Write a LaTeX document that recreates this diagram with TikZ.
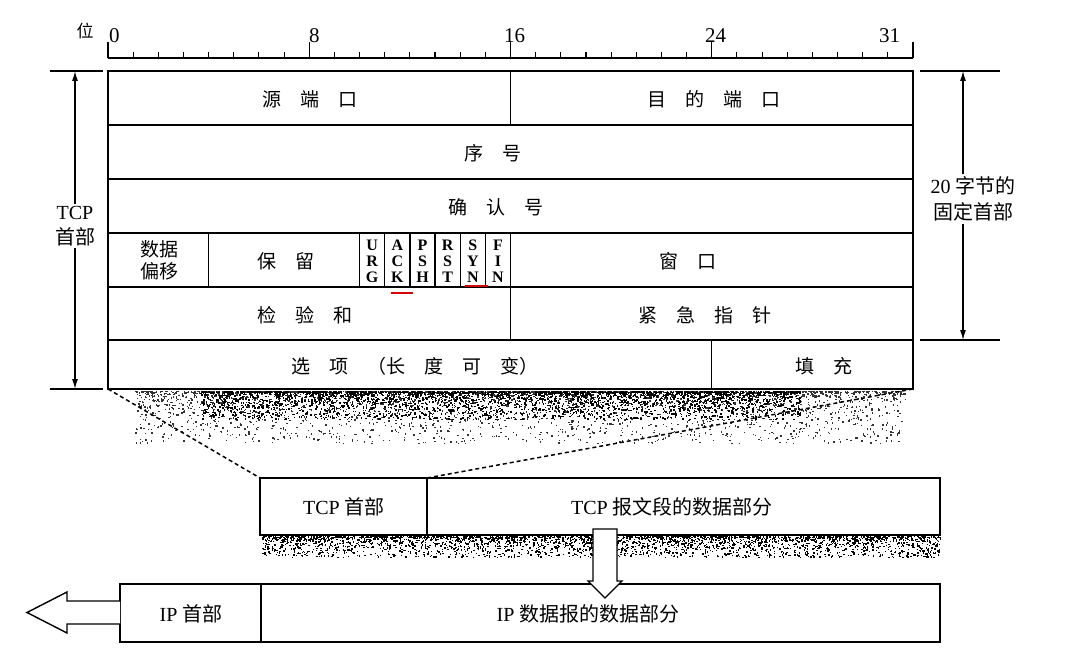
\documentclass[tikz,border=0pt]{standalone}
\usepackage{fontspec}
\setmainfont{Liberation Serif}
\newfontfamily\cjk{Noto Sans CJK SC}
\usetikzlibrary{arrows.meta}
\newcommand\gp{\hspace{1.0em}}
\begin{document}
\begin{tikzpicture}[x=1pt,y=-1pt,
  zh/.style={font=\cjk\fontsize{19}{22}\selectfont, inner sep=1pt},
  zhb/.style={font=\fontsize{20}{24}\selectfont, inner sep=1pt},
  flagtxt/.style={font=\bfseries\fontsize{16}{16}\selectfont, align=center, inner sep=0pt},
  num/.style={font=\fontsize{21}{24}\selectfont, inner sep=0pt, anchor=base west},
  outerline/.style={line width=2.3pt},
  innerline/.style={line width=1.2pt},
  dimarrow/.style={line width=1.1pt, -{Latex[length=10pt,width=6pt]}},
  dimline/.style={line width=1.1pt},
  dashedlink/.style={line width=1.5pt, dash pattern=on 4pt off 3pt},
  hollow/.style={line width=1.4pt, fill=white, line join=miter},
  redmark/.style={draw=red!85!black, line width=2.6pt}
]
\useasboundingbox (0,0) rectangle (1069,666);

% ---------- speckle textures ----------
\pgfmathsetseed{11}
\foreach \i in {1,...,3000}{
  \pgfmathsetmacro\rx{135+770*rnd}
  \pgfmathsetmacro\ry{391+52*rnd^2.5}
  \fill[black!80] (\rx,\ry) rectangle ++(1.4,1.4);
}
\foreach \i in {1,...,3000}{
  \pgfmathsetmacro\rx{200+600*rnd}
  \pgfmathsetmacro\ry{391+28*rnd^2}
  \fill[black] (\rx,\ry) rectangle ++(1.5,1.5);
}
\foreach \i in {1,...,2800}{
  \pgfmathsetmacro\rx{262+678*rnd}
  \pgfmathsetmacro\ry{536+21*rnd^2}
  \fill[black] (\rx,\ry) rectangle ++(1.4,1.4);
}

% ---------- bit ruler ----------
\coordinate (r0) at (108,58);
\coordinate (r32) at (913,58);
\draw[line width=1.1pt] (r0) -- (r32);
\foreach \b in {0,...,32}{
  \pgfmathsetmacro\tx{108+25.156*\b}
  \pgfmathtruncatemacro\ismaj{mod(\b,8)==0 ? 1 : 0}
  \ifnum\ismaj=1
    \draw[line width=1.1pt] (\tx,58) -- (\tx,42);
  \else
    \draw[line width=1.1pt] (\tx,58) -- (\tx,52);
  \fi
}
\node[zh, font=\cjk\fontsize{17}{20}\selectfont] (wei) at (85,31) {位};
\node[num] (n0)  at (109,43) {0};
\node[num] (n8)  at (309,43) {8};
\node[num] (n16) at (504,43) {16};
\node[num] (n24) at (705,43) {24};
\node[num] (n31) at (879,43) {31};

% ---------- header grid ----------
\coordinate (tl) at (108,71);
\coordinate (br) at (913,389);
\coordinate (bl) at (108,389);
\coordinate (brr) at (913,389);
\foreach \y in {125,179,233,287,340}{
  \draw[innerline] (108,\y) -- (913,\y);
}
\draw[innerline] (510.5,71) -- (510.5,125);
\draw[innerline] (510.5,287) -- (510.5,340);
\draw[innerline] (711.7,340) -- (711.7,389);
\foreach \x in {208.6,359.6,384.7,409.9,435.0,460.2,485.3,510.5}{
  \draw[innerline] (\x,233) -- (\x,287);
}
\draw[outerline] (tl) rectangle (br);

% row texts
\node[zh] (srcport) at (310,99) {源\gp 端\gp 口};
\node[zh] (dstport) at (714,99) {目\gp 的\gp 端\gp 口};
\node[zh] (seq) at (493,153) {序\gp 号};
\node[zh] (ack) at (496,207) {确\gp 认\gp 号};
\node[zh, align=center, font=\cjk\fontsize{19}{22}\selectfont] (offset) at (159,260) {数据\\偏移};
\node[zh] (resv) at (286,261) {保\gp 留};
\node[flagtxt] (urg) at (372.2,261) {U\\R\\G};
\node[flagtxt] (fack) at (397.3,261) {A\\C\\K};
\node[flagtxt] (psh) at (422.5,261) {P\\S\\H};
\node[flagtxt] (rst) at (447.6,261) {R\\S\\T};
\node[flagtxt] (syn) at (472.8,261) {S\\Y\\N};
\node[flagtxt] (fin) at (497.9,261) {F\\I\\N};
\node[zh] (win) at (688,261) {窗\gp 口};
\node[zh] (csum) at (305,315) {检\gp 验\gp 和};
\node[zh] (urgp) at (705,315) {紧\gp 急\gp 指\gp 针};
\node[zh] (opts) at (415,366) {选\gp 项\gp （长\gp 度\gp 可\gp 变）};
\node[zh] (pad) at (824,366) {填\gp 充};

% red underlines
\coordinate (ackL) at (391,293);
\coordinate (ackR) at (413,293);
\coordinate (synL) at (465,286);
\coordinate (synR) at (488,286);
\draw[redmark] (ackL) -- (ackR);
\draw[redmark] (synL) -- (synR);

% ---------- dimension: TCP header ----------
\coordinate (lt1) at (50,71);
\coordinate (lt2) at (103,71);
\coordinate (lb1) at (50,389);
\coordinate (lb2) at (103,389);
\draw[dimline] (lt1) -- (lt2);
\draw[dimline] (lb1) -- (lb2);
\node[align=center, inner sep=2pt, font=\fontsize{20}{25}\selectfont] (tcplbl) at (75,226) {TCP\\{\cjk 首部}};
\coordinate (latop) at (75,71);
\coordinate (labot) at (75,389);
\draw[dimarrow] (tcplbl.north) -- (latop);
\draw[dimarrow] (tcplbl.south) -- (labot);

% ---------- dimension: 20 bytes fixed ----------
\coordinate (rt1) at (920,71);
\coordinate (rt2) at (1000,71);
\coordinate (rb1) at (920,340);
\coordinate (rb2) at (1000,340);
\draw[dimline] (rt1) -- (rt2);
\draw[dimline] (rb1) -- (rb2);
\node[align=center, inner sep=2pt, font=\fontsize{20}{26}\selectfont] (fixlbl) at (973,199) {20 {\cjk 字节的}\\{\cjk 固定首部}};
\coordinate (ratop) at (963,71);
\coordinate (rabot) at (963,340);
\draw[dimarrow] (ratop |- fixlbl.north) -- (ratop);
\draw[dimarrow] (rabot |- fixlbl.south) -- (rabot);

% ---------- TCP segment ----------
\coordinate (segTL) at (260,478);
\coordinate (segBR) at (940,535);
\coordinate (segDivT) at (427,478);
\coordinate (segDivB) at (427,535);
\draw[dashedlink] (bl) -- (segTL);
\draw[dashedlink] (brr) -- (segDivT);
\draw[innerline] (segDivT) -- (segDivB);
\draw[outerline] (segTL) rectangle (segBR);
\node[zhb] (seghdr) at (344,507) {TCP {\cjk 首部}};
\node[zhb] (segdata) at (672,507) {TCP {\cjk 报文段的数据部分}};

% ---------- IP datagram ----------
\coordinate (ipTL) at (120,584);
\coordinate (ipBR) at (940,642);
\coordinate (ipDivT) at (261,584);
\coordinate (ipDivB) at (261,642);
\draw[innerline] (ipDivT) -- (ipDivB);
\draw[outerline] (ipTL) rectangle (ipBR);
\node[zhb] (iphdr) at (191,614) {IP {\cjk 首部}};
\node[zhb] (ipdata) at (588,614) {IP {\cjk 数据报的数据部分}};

% ---------- hollow arrows ----------
\draw[hollow] (593,529) -- (617,529) -- (617,581) -- (622,581) -- (605,598)
  -- (588,581) -- (593,581) -- cycle;
\draw[hollow] (120,601) -- (67,601) -- (67,592) -- (27,612.5) -- (67,633)
  -- (67,624) -- (120,624);
\end{tikzpicture}
\end{document}
